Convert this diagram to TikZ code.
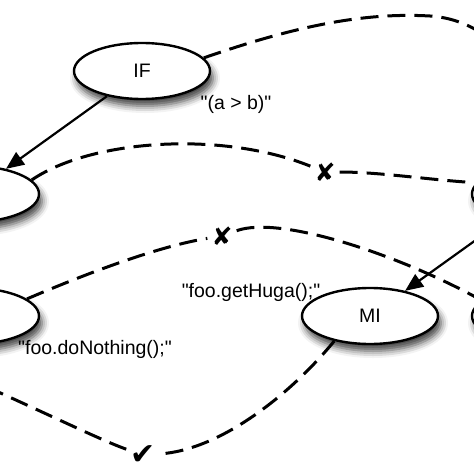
\documentclass[tikz,border=0pt]{standalone}
\usepackage{fontspec}
\setmainfont{Liberation Sans}[Ligatures=TeXOff]
\newfontfamily\markfont{DejaVu Sans}
\usetikzlibrary{shapes.geometric,arrows.meta,shadows.blur}

\tikzset{
  blk/.style={ellipse, draw, line width=2.4pt, fill=white,
    minimum width=136pt, minimum height=56pt, inner sep=0pt,
    blur shadow={shadow xshift=3pt, shadow yshift=-7pt,
      shadow blur radius=7pt, shadow opacity=75}},
  dep/.style={line width=3pt, dash pattern=on 18pt off 9pt},
  ctl/.style={line width=2.2pt, -{Triangle[length=18pt,width=15pt]}},
  lbl/.style={inner sep=0pt},
  verdict/.style={inner sep=4pt, font=\markfont\fontsize{25pt}{28pt}\selectfont}
}

\begin{document}
\begin{tikzpicture}[x=1pt, y=-1pt, font=\fontsize{19.5pt}{23pt}\selectfont]
  \useasboundingbox (0,0) rectangle (474,474);

  % Draw the blocks
  \node[blk] (if) at (142,71) {IF};
  \node[blk] (lefttop) at (-29,194) {};
  \node[blk] (leftbot) at (-29,316) {};
  \node[blk] (mi) at (370,316) {MI};
  \node[blk] (righttop) at (540,194) {};
  \node[blk] (rightbot) at (540,316) {};
  \coordinate (exit) at (-40,375);

  % Label the statements
  \node[lbl] (cond) at (236,104) {"(a > b)"};
  \node[lbl] (getcall) at (251,292) {"foo.getHuga();"};
  \node[lbl] (nocall) at (95,349) {"foo.doNothing();"};

  % Marks on the dependences
  \node[verdict] (x1) at (325,172) {✘};
  \node[verdict] (x2) at (222,236) {✘};
  \node[verdict, font=\markfont\fontsize{30pt}{32pt}\selectfont] (ok) at (143,455) {✔};

  % Draw the control flow
  \draw[ctl] (if) -- (lefttop);
  \draw[ctl] (righttop) -- (mi);

  % Draw the dependences
  \draw[dep] (if.12) .. controls (290,28) and (360,12) .. (430,16)
    .. controls (480,19) and (540,60) .. (righttop.north);
  \draw[dep] (lefttop.13) .. controls (90,140) and (220,130) .. (x1);
  \draw[dep] (x1) .. controls (380,172) and (430,180) .. (righttop.170);
  \draw[dep] (leftbot.17) .. controls (90,272) and (160,246) .. (x2);
  \draw[dep] (x2) .. controls (280,215) and (400,255) .. (rightbot.165);
  \draw[dep] (mi.215) .. controls (290,395) and (220,450) .. (ok);
  \draw[dep] (ok) .. controls (100,440) and (40,410) .. (exit);
\end{tikzpicture}
\end{document}
